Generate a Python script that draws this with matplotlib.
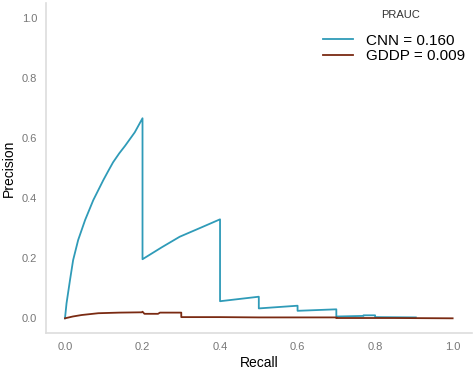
import matplotlib
matplotlib.use("Agg")
import matplotlib.pyplot as plt

plt.rcParams['font.family'] = ['Liberation Sans', 'DejaVu Sans']

cnn_recall = [0.0, 0.004, 0.013, 0.021, 0.034, 0.052, 0.073, 0.099, 0.112, 0.124, 0.140, 0.155, 0.180, 0.200,
              0.200, 0.250, 0.296, 0.350, 0.400,
              0.400, 0.500,
              0.500, 0.600,
              0.600, 0.700,
              0.700, 0.770, 0.770, 0.800, 0.800, 0.905]
cnn_precision = [0.0, 0.050, 0.128, 0.194, 0.261, 0.328, 0.394, 0.461, 0.492, 0.520, 0.550, 0.575, 0.620, 0.667,
                 0.197, 0.237, 0.272, 0.302, 0.330,
                 0.057, 0.072,
                 0.033, 0.042,
                 0.025, 0.030,
                 0.006, 0.008, 0.010, 0.010, 0.004, 0.003]

gddp_recall = [0.0, 0.020, 0.043, 0.086, 0.140, 0.198, 0.200, 0.205, 0.240, 0.245, 0.300, 0.300,
               0.400, 0.500, 0.600, 0.700, 0.700, 0.850, 1.0]
gddp_precision = [0.0, 0.006, 0.011, 0.017, 0.019, 0.020, 0.022, 0.015, 0.015, 0.019, 0.019, 0.004,
                  0.004, 0.003, 0.003, 0.003, 0.001, 0.001, 0.0]

labels = ["CNN = 0.160", "GDDP = 0.009"]
legend_title = "PRAUC"
ticks = [0.0, 0.2, 0.4, 0.6, 0.8, 1.0]

fig = plt.figure(figsize=(4.74, 3.72), dpi=100)
ax = fig.add_axes([0.0962, 0.104, 0.8996, 0.887])

ax.plot(cnn_recall, cnn_precision, color="#2f9bb8", lw=1.3, label=labels[0])
ax.plot(gddp_recall, gddp_precision, color="#7a2a12", lw=1.3, label=labels[1])

ax.set_xlim(-0.05, 1.05)
ax.set_ylim(-0.05, 1.05)
ax.set_xticks(ticks)
ax.set_yticks(ticks)
ax.set_xticklabels([f"{t:.1f}" for t in ticks])
ax.set_yticklabels([f"{t:.1f}" for t in ticks])
ax.tick_params(length=0, labelsize=8, labelcolor="#777777", pad=6)

for s in ["top", "right"]:
    ax.spines[s].set_visible(False)
for s in ["left", "bottom"]:
    ax.spines[s].set_color("#dddddd")
    ax.spines[s].set_linewidth(1.2)

ax.set_xlabel("Recall", fontsize=10, labelpad=3)
ax.set_ylabel("Precision", fontsize=10, labelpad=4)

leg = ax.legend(loc="upper right", bbox_to_anchor=(1.015, 0.95),
                frameon=False, fontsize=11,
                handlelength=2.0, handletextpad=0.8, labelspacing=0.1)
fig.text(401 / 474, 1 - 15 / 372, legend_title, fontsize=8, color="#333333",
         ha="center", va="center")

fig.savefig("out.png", dpi=100)
